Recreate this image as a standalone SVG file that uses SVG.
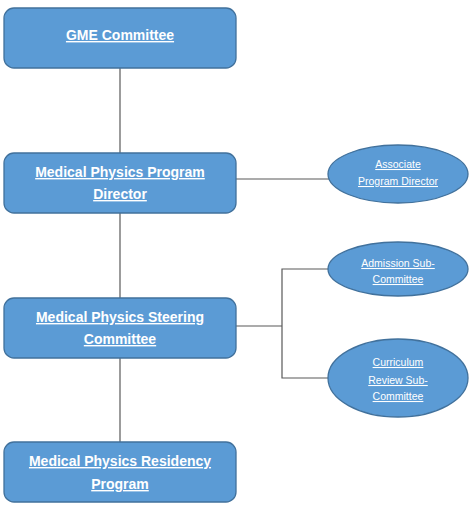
<svg xmlns="http://www.w3.org/2000/svg" width="474" height="507" viewBox="0 0 474 507">
<style>
.box{fill:#5b9bd5;stroke:#41719c;stroke-width:1.3}
.t{font-family:"Liberation Sans",Arial,sans-serif;font-weight:bold;font-size:14px;fill:#fff;text-decoration:underline;text-anchor:middle}
.s{font-family:"Liberation Sans",Arial,sans-serif;font-size:10.5px;fill:#fff;text-decoration:underline;text-anchor:middle}
.c{stroke:#595959;stroke-width:1.2;fill:none}
</style>
<rect width="474" height="507" fill="#fff"/>
<g id="connectors">
<line class="c" x1="120" y1="68" x2="120" y2="153"/>
<line class="c" x1="120" y1="213" x2="120" y2="298"/>
<line class="c" x1="120" y1="358" x2="120" y2="442"/>
<line class="c" x1="236" y1="179" x2="329" y2="179"/>
<line class="c" x1="236" y1="326" x2="282" y2="326"/>
<polyline class="c" points="329,269 282,269 282,378 329,378"/>
</g>
<g id="gme">
<rect class="box" x="4" y="8" width="232" height="60" rx="10"/>
<text class="t" x="120" y="40">GME Committee</text>
</g>
<g id="director">
<rect class="box" x="4" y="153" width="232" height="60" rx="10"/>
<text class="t" x="120" y="177">Medical Physics Program</text>
<text class="t" x="120" y="199">Director</text>
</g>
<g id="steering">
<rect class="box" x="4" y="298" width="232" height="60" rx="10"/>
<text class="t" x="120" y="322">Medical Physics Steering</text>
<text class="t" x="120" y="344">Committee</text>
</g>
<g id="residency">
<rect class="box" x="4" y="442" width="232" height="60" rx="10"/>
<text class="t" x="120" y="466">Medical Physics Residency</text>
<text class="t" x="120" y="489">Program</text>
</g>
<g id="associate">
<ellipse class="box" cx="398" cy="174" rx="70" ry="29"/>
<text class="s" x="398" y="168">Associate</text>
<text class="s" x="398" y="185">Program Director</text>
</g>
<g id="admission">
<ellipse class="box" cx="398" cy="269" rx="70" ry="27"/>
<text class="s" x="398" y="267">Admission Sub-</text>
<text class="s" x="398" y="283">Committee</text>
</g>
<g id="curriculum">
<ellipse class="box" cx="398" cy="378" rx="70" ry="39"/>
<text class="s" x="398" y="366">Curriculum</text>
<text class="s" x="398" y="384">Review Sub-</text>
<text class="s" x="398" y="400">Committee</text>
</g>
</svg>
